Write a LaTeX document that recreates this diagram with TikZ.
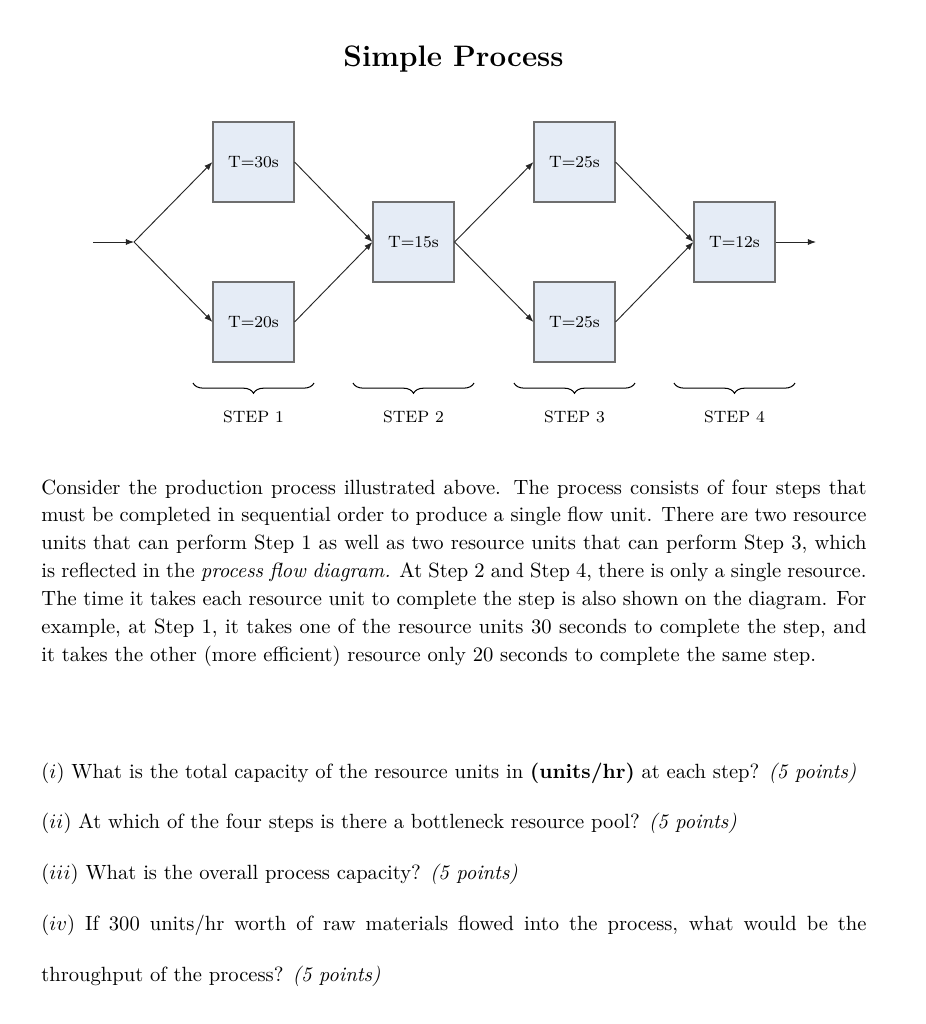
\documentclass[tikz,border=0pt]{standalone}
\usepackage{amsmath, amssymb}
\usepackage{tikz}
\usepackage{xcolor}
\usetikzlibrary{positioning, arrows.meta, decorations.pathreplacing}

\definecolor{boxfill}{HTML}{E5ECF6}
\definecolor{boxline}{HTML}{6E6E6E}

\begin{document}
\begin{tikzpicture}[x=0.486pt, y=-0.486pt,
    res/.style={draw=boxline, line width=0.9pt, fill=boxfill, minimum width=39pt, minimum height=38.5pt, inner sep=0pt, font=\fontsize{8}{10}\selectfont},
    flow/.style={draw=black!85, line width=0.45pt, -{Latex[length=4pt, width=3pt]}},
    brc/.style={decorate, decoration={brace, mirror, amplitude=5pt}, line width=0.5pt},
    lbl/.style={font=\fontsize{8}{10}\selectfont, inner sep=0pt},
    txt/.style={text width=401pt, align=justify, inner sep=0pt, anchor=base west}]
    \useasboundingbox[fill=white] (0,0) rectangle (926,1024);

    % title
    \node [font=\Large\bfseries, anchor=base, inner sep=0pt] (title) at (453.5,66) {Simple Process};

    % resource units
    \node [res] (A1) at (253.5,162) {T=30s};
    \node [res] (A2) at (253.5,322) {T=20s};
    \node [res] (B) at (413.5,242) {T=15s};
    \node [res] (C1) at (574.5,162) {T=25s};
    \node [res] (C2) at (574.5,322) {T=25s};
    \node [res] (D) at (734.5,242) {T=12s};
    \coordinate (in) at (93,242);
    \coordinate (split) at (134,242);
    \coordinate (out) at (816,242);

    \draw [flow] (in) -- (split);
    \draw [flow] (split) -- (A1.west);
    \draw [flow] (split) -- (A2.west);
    \draw [flow] (A1.east) -- (B.west);
    \draw [flow] (A2.east) -- (B.west);
    \draw [flow] (B.east) -- (C1.west);
    \draw [flow] (B.east) -- (C2.west);
    \draw [flow] (C1.east) -- (D.west);
    \draw [flow] (C2.east) -- (D.west);
    \draw [flow] (D.east) -- (out);

    % steps
    \foreach \n/\x in {1/253.5, 2/413.5, 3/574.5, 4/734.5} {
        \node [lbl, anchor=base] (S\n) at (\x,422) {STEP \n};
        \draw [brc] (\x-60.5,383) -- (\x+60.5,383);
    }

    % text
    \node [txt, font=\fontsize{10}{13.6}\selectfont] (para) at (41,494) {Consider the production process illustrated above. The process consists of four steps that\linebreak
    must be completed in sequential order to produce a single flow unit. There are two resource\linebreak
    units that can perform Step 1 as well as two resource units that can perform Step 3, which\linebreak
    is reflected in the \textit{process flow diagram.} At Step 2 and Step 4, there is only a single resource.\linebreak
    The time it takes each resource unit to complete the step is also shown on the diagram. For\linebreak
    example, at Step 1, it takes one of the resource units 30 seconds to complete the step, and\linebreak
    it takes the other (more efficient) resource only 20 seconds to complete the same step.};

    \node [txt, font=\fontsize{10}{24.7}\selectfont] (qs) at (41,778) {$(i)$ What is the total capacity of the resource units in \textbf{(units/hr)} at each step? \textit{(5 points)}\par
    $(ii)$ At which of the four steps is there a bottleneck resource pool? \textit{(5 points)}\par
    $(iii)$ What is the overall process capacity? \textit{(5 points)}\par
    $(iv)$ If 300 units/hr worth of raw materials flowed into the process, what would be the\linebreak
    throughput of the process? \textit{(5 points)}};
\end{tikzpicture}
\end{document}
